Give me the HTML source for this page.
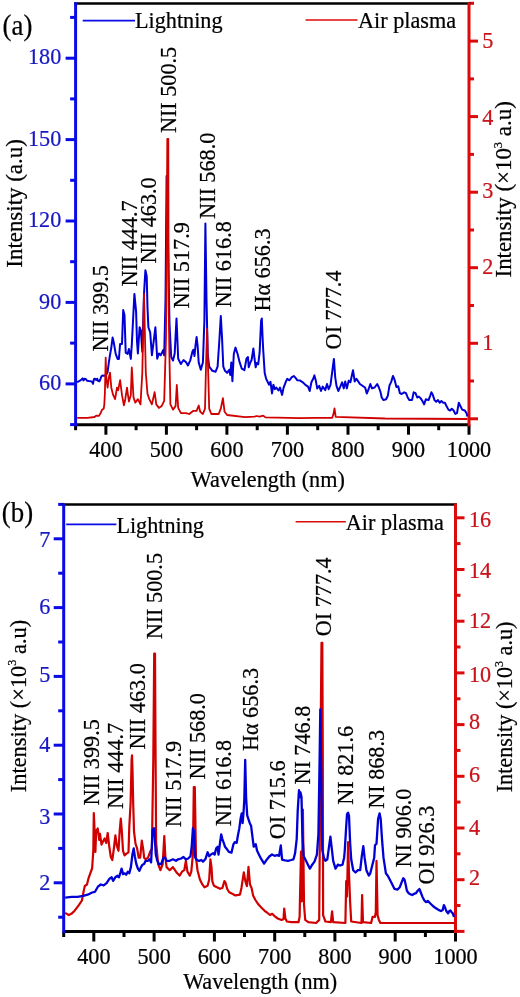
<!DOCTYPE html>
<html><head><meta charset="utf-8"><style>
html,body{margin:0;padding:0;background:#fff;}
svg{display:block;}
text{font-family:'Liberation Serif',serif;font-size:24px;stroke-width:0.25px;}
</style></head><body>
<svg width="520" height="997" viewBox="0 0 520 997">
<rect width="520" height="997" fill="#fff"/>
<g>
<line x1="105.9" y1="424.7" x2="105.9" y2="434.7" stroke="#000" stroke-width="3"/>
<text transform="translate(105.86,456.70) scale(0.925,1)" text-anchor="middle" fill="#000" stroke="#000">400</text>
<line x1="166.4" y1="424.7" x2="166.4" y2="434.7" stroke="#000" stroke-width="3"/>
<text transform="translate(166.38,456.70) scale(0.925,1)" text-anchor="middle" fill="#000" stroke="#000">500</text>
<line x1="226.9" y1="424.7" x2="226.9" y2="434.7" stroke="#000" stroke-width="3"/>
<text transform="translate(226.91,456.70) scale(0.925,1)" text-anchor="middle" fill="#000" stroke="#000">600</text>
<line x1="287.4" y1="424.7" x2="287.4" y2="434.7" stroke="#000" stroke-width="3"/>
<text transform="translate(287.43,456.70) scale(0.925,1)" text-anchor="middle" fill="#000" stroke="#000">700</text>
<line x1="348.0" y1="424.7" x2="348.0" y2="434.7" stroke="#000" stroke-width="3"/>
<text transform="translate(347.95,456.70) scale(0.925,1)" text-anchor="middle" fill="#000" stroke="#000">800</text>
<line x1="408.5" y1="424.7" x2="408.5" y2="434.7" stroke="#000" stroke-width="3"/>
<text transform="translate(408.48,456.70) scale(0.925,1)" text-anchor="middle" fill="#000" stroke="#000">900</text>
<line x1="469.0" y1="424.7" x2="469.0" y2="434.7" stroke="#000" stroke-width="3"/>
<text transform="translate(469.00,456.70) scale(0.925,1)" text-anchor="middle" fill="#000" stroke="#000">1000</text>
<line x1="75.6" y1="424.7" x2="75.6" y2="430.2" stroke="#000" stroke-width="3"/>
<line x1="136.1" y1="424.7" x2="136.1" y2="430.2" stroke="#000" stroke-width="3"/>
<line x1="196.6" y1="424.7" x2="196.6" y2="430.2" stroke="#000" stroke-width="3"/>
<line x1="257.2" y1="424.7" x2="257.2" y2="430.2" stroke="#000" stroke-width="3"/>
<line x1="317.7" y1="424.7" x2="317.7" y2="430.2" stroke="#000" stroke-width="3"/>
<line x1="378.2" y1="424.7" x2="378.2" y2="430.2" stroke="#000" stroke-width="3"/>
<line x1="438.7" y1="424.7" x2="438.7" y2="430.2" stroke="#000" stroke-width="3"/>
<line x1="65.6" y1="383.9" x2="75.6" y2="383.9" stroke="#0a0ae6" stroke-width="3"/>
<text transform="translate(61.30,389.80) scale(0.925,1)" text-anchor="end" fill="#1818c4" stroke="#1818c4">60</text>
<line x1="65.6" y1="302.4" x2="75.6" y2="302.4" stroke="#0a0ae6" stroke-width="3"/>
<text transform="translate(61.30,308.90) scale(0.925,1)" text-anchor="end" fill="#1818c4" stroke="#1818c4">90</text>
<line x1="65.6" y1="221.0" x2="75.6" y2="221.0" stroke="#0a0ae6" stroke-width="3"/>
<text transform="translate(61.30,227.20) scale(0.925,1)" text-anchor="end" fill="#1818c4" stroke="#1818c4">120</text>
<line x1="65.6" y1="139.6" x2="75.6" y2="139.6" stroke="#0a0ae6" stroke-width="3"/>
<text transform="translate(61.30,145.70) scale(0.925,1)" text-anchor="end" fill="#1818c4" stroke="#1818c4">150</text>
<line x1="65.6" y1="58.2" x2="75.6" y2="58.2" stroke="#0a0ae6" stroke-width="3"/>
<text transform="translate(61.30,63.90) scale(0.925,1)" text-anchor="end" fill="#1818c4" stroke="#1818c4">180</text>
<line x1="70.1" y1="424.6" x2="75.6" y2="424.6" stroke="#0a0ae6" stroke-width="3"/>
<line x1="70.1" y1="343.1" x2="75.6" y2="343.1" stroke="#0a0ae6" stroke-width="3"/>
<line x1="70.1" y1="261.7" x2="75.6" y2="261.7" stroke="#0a0ae6" stroke-width="3"/>
<line x1="70.1" y1="180.3" x2="75.6" y2="180.3" stroke="#0a0ae6" stroke-width="3"/>
<line x1="70.1" y1="98.9" x2="75.6" y2="98.9" stroke="#0a0ae6" stroke-width="3"/>
<line x1="70.1" y1="17.4" x2="75.6" y2="17.4" stroke="#0a0ae6" stroke-width="3"/>
<line x1="469.0" y1="418.8" x2="478.0" y2="418.8" stroke="#dc0a0a" stroke-width="3"/>
<line x1="469.0" y1="343.3" x2="478.0" y2="343.3" stroke="#dc0a0a" stroke-width="3"/>
<text transform="translate(482.20,350.40) scale(0.925,1)" fill="#c8141c" stroke="#c8141c">1</text>
<line x1="469.0" y1="267.7" x2="478.0" y2="267.7" stroke="#dc0a0a" stroke-width="3"/>
<text transform="translate(482.20,273.70) scale(0.925,1)" fill="#c8141c" stroke="#c8141c">2</text>
<line x1="469.0" y1="192.2" x2="478.0" y2="192.2" stroke="#dc0a0a" stroke-width="3"/>
<text transform="translate(482.20,198.20) scale(0.925,1)" fill="#c8141c" stroke="#c8141c">3</text>
<line x1="469.0" y1="116.6" x2="478.0" y2="116.6" stroke="#dc0a0a" stroke-width="3"/>
<text transform="translate(482.20,125.20) scale(0.925,1)" fill="#c8141c" stroke="#c8141c">4</text>
<line x1="469.0" y1="41.1" x2="478.0" y2="41.1" stroke="#dc0a0a" stroke-width="3"/>
<text transform="translate(482.20,47.50) scale(0.925,1)" fill="#c8141c" stroke="#c8141c">5</text>
<line x1="469.0" y1="381.0" x2="474.0" y2="381.0" stroke="#dc0a0a" stroke-width="3"/>
<line x1="469.0" y1="305.5" x2="474.0" y2="305.5" stroke="#dc0a0a" stroke-width="3"/>
<line x1="469.0" y1="230.0" x2="474.0" y2="230.0" stroke="#dc0a0a" stroke-width="3"/>
<line x1="469.0" y1="154.4" x2="474.0" y2="154.4" stroke="#dc0a0a" stroke-width="3"/>
<line x1="469.0" y1="78.9" x2="474.0" y2="78.9" stroke="#dc0a0a" stroke-width="3"/>
<line x1="469.0" y1="3.3" x2="474.0" y2="3.3" stroke="#dc0a0a" stroke-width="3"/>
<line x1="74.1" y1="3.5" x2="470.5" y2="3.5" stroke="#000" stroke-width="2.5"/>
<line x1="75.6" y1="424.7" x2="469.0" y2="424.7" stroke="#000" stroke-width="3"/>
<line x1="75.6" y1="2.3" x2="75.6" y2="426.2" stroke="#0a0ae6" stroke-width="3"/>
<line x1="469.0" y1="2.3" x2="469.0" y2="426.2" stroke="#dc0a0a" stroke-width="3"/>
</g>
<line x1="93.8" y1="931.5" x2="93.8" y2="941.5" stroke="#000" stroke-width="3"/>
<text transform="translate(93.84,964.00) scale(0.925,1)" text-anchor="middle" fill="#000" stroke="#000">400</text>
<line x1="154.1" y1="931.5" x2="154.1" y2="941.5" stroke="#000" stroke-width="3"/>
<text transform="translate(154.12,964.00) scale(0.925,1)" text-anchor="middle" fill="#000" stroke="#000">500</text>
<line x1="214.4" y1="931.5" x2="214.4" y2="941.5" stroke="#000" stroke-width="3"/>
<text transform="translate(214.39,964.00) scale(0.925,1)" text-anchor="middle" fill="#000" stroke="#000">600</text>
<line x1="274.7" y1="931.5" x2="274.7" y2="941.5" stroke="#000" stroke-width="3"/>
<text transform="translate(274.67,964.00) scale(0.925,1)" text-anchor="middle" fill="#000" stroke="#000">700</text>
<line x1="334.9" y1="931.5" x2="334.9" y2="941.5" stroke="#000" stroke-width="3"/>
<text transform="translate(334.95,964.00) scale(0.925,1)" text-anchor="middle" fill="#000" stroke="#000">800</text>
<line x1="395.2" y1="931.5" x2="395.2" y2="941.5" stroke="#000" stroke-width="3"/>
<text transform="translate(395.22,964.00) scale(0.925,1)" text-anchor="middle" fill="#000" stroke="#000">900</text>
<line x1="455.5" y1="931.5" x2="455.5" y2="941.5" stroke="#000" stroke-width="3"/>
<text transform="translate(455.50,964.00) scale(0.925,1)" text-anchor="middle" fill="#000" stroke="#000">1000</text>
<line x1="63.7" y1="931.5" x2="63.7" y2="937.0" stroke="#000" stroke-width="3"/>
<line x1="124.0" y1="931.5" x2="124.0" y2="937.0" stroke="#000" stroke-width="3"/>
<line x1="184.3" y1="931.5" x2="184.3" y2="937.0" stroke="#000" stroke-width="3"/>
<line x1="244.5" y1="931.5" x2="244.5" y2="937.0" stroke="#000" stroke-width="3"/>
<line x1="304.8" y1="931.5" x2="304.8" y2="937.0" stroke="#000" stroke-width="3"/>
<line x1="365.1" y1="931.5" x2="365.1" y2="937.0" stroke="#000" stroke-width="3"/>
<line x1="425.4" y1="931.5" x2="425.4" y2="937.0" stroke="#000" stroke-width="3"/>
<line x1="53.7" y1="882.8" x2="63.7" y2="882.8" stroke="#0a0ae6" stroke-width="3"/>
<text transform="translate(50.40,889.50) scale(0.925,1)" text-anchor="end" fill="#1818c4" stroke="#1818c4">2</text>
<line x1="53.7" y1="814.0" x2="63.7" y2="814.0" stroke="#0a0ae6" stroke-width="3"/>
<text transform="translate(50.40,823.70) scale(0.925,1)" text-anchor="end" fill="#1818c4" stroke="#1818c4">3</text>
<line x1="53.7" y1="745.2" x2="63.7" y2="745.2" stroke="#0a0ae6" stroke-width="3"/>
<text transform="translate(50.40,751.80) scale(0.925,1)" text-anchor="end" fill="#1818c4" stroke="#1818c4">4</text>
<line x1="53.7" y1="676.4" x2="63.7" y2="676.4" stroke="#0a0ae6" stroke-width="3"/>
<text transform="translate(50.40,681.60) scale(0.925,1)" text-anchor="end" fill="#1818c4" stroke="#1818c4">5</text>
<line x1="53.7" y1="607.6" x2="63.7" y2="607.6" stroke="#0a0ae6" stroke-width="3"/>
<text transform="translate(50.40,614.10) scale(0.925,1)" text-anchor="end" fill="#1818c4" stroke="#1818c4">6</text>
<line x1="53.7" y1="538.8" x2="63.7" y2="538.8" stroke="#0a0ae6" stroke-width="3"/>
<text transform="translate(50.40,546.80) scale(0.925,1)" text-anchor="end" fill="#1818c4" stroke="#1818c4">7</text>
<line x1="58.2" y1="917.2" x2="63.7" y2="917.2" stroke="#0a0ae6" stroke-width="3"/>
<line x1="58.2" y1="848.4" x2="63.7" y2="848.4" stroke="#0a0ae6" stroke-width="3"/>
<line x1="58.2" y1="779.6" x2="63.7" y2="779.6" stroke="#0a0ae6" stroke-width="3"/>
<line x1="58.2" y1="710.8" x2="63.7" y2="710.8" stroke="#0a0ae6" stroke-width="3"/>
<line x1="58.2" y1="642.0" x2="63.7" y2="642.0" stroke="#0a0ae6" stroke-width="3"/>
<line x1="58.2" y1="573.2" x2="63.7" y2="573.2" stroke="#0a0ae6" stroke-width="3"/>
<line x1="58.2" y1="504.4" x2="63.7" y2="504.4" stroke="#0a0ae6" stroke-width="3"/>
<line x1="455.5" y1="931.4" x2="464.5" y2="931.4" stroke="#dc0a0a" stroke-width="3"/>
<line x1="455.5" y1="879.7" x2="464.5" y2="879.7" stroke="#dc0a0a" stroke-width="3"/>
<text transform="translate(469.00,885.00) scale(0.925,1)" fill="#c8141c" stroke="#c8141c">2</text>
<line x1="455.5" y1="828.0" x2="464.5" y2="828.0" stroke="#dc0a0a" stroke-width="3"/>
<text transform="translate(469.00,834.90) scale(0.925,1)" fill="#c8141c" stroke="#c8141c">4</text>
<line x1="455.5" y1="776.3" x2="464.5" y2="776.3" stroke="#dc0a0a" stroke-width="3"/>
<text transform="translate(469.00,781.80) scale(0.925,1)" fill="#c8141c" stroke="#c8141c">6</text>
<line x1="455.5" y1="724.6" x2="464.5" y2="724.6" stroke="#dc0a0a" stroke-width="3"/>
<text transform="translate(469.00,729.10) scale(0.925,1)" fill="#c8141c" stroke="#c8141c">8</text>
<line x1="455.5" y1="672.9" x2="464.5" y2="672.9" stroke="#dc0a0a" stroke-width="3"/>
<text transform="translate(469.00,681.50) scale(0.925,1)" fill="#c8141c" stroke="#c8141c">10</text>
<line x1="455.5" y1="621.2" x2="464.5" y2="621.2" stroke="#dc0a0a" stroke-width="3"/>
<text transform="translate(469.00,628.20) scale(0.925,1)" fill="#c8141c" stroke="#c8141c">12</text>
<line x1="455.5" y1="569.5" x2="464.5" y2="569.5" stroke="#dc0a0a" stroke-width="3"/>
<text transform="translate(469.00,578.20) scale(0.925,1)" fill="#c8141c" stroke="#c8141c">14</text>
<line x1="455.5" y1="517.8" x2="464.5" y2="517.8" stroke="#dc0a0a" stroke-width="3"/>
<text transform="translate(469.00,527.20) scale(0.925,1)" fill="#c8141c" stroke="#c8141c">16</text>
<line x1="455.5" y1="905.5" x2="460.5" y2="905.5" stroke="#dc0a0a" stroke-width="3"/>
<line x1="455.5" y1="853.8" x2="460.5" y2="853.8" stroke="#dc0a0a" stroke-width="3"/>
<line x1="455.5" y1="802.1" x2="460.5" y2="802.1" stroke="#dc0a0a" stroke-width="3"/>
<line x1="455.5" y1="750.4" x2="460.5" y2="750.4" stroke="#dc0a0a" stroke-width="3"/>
<line x1="455.5" y1="698.8" x2="460.5" y2="698.8" stroke="#dc0a0a" stroke-width="3"/>
<line x1="455.5" y1="647.0" x2="460.5" y2="647.0" stroke="#dc0a0a" stroke-width="3"/>
<line x1="455.5" y1="595.3" x2="460.5" y2="595.3" stroke="#dc0a0a" stroke-width="3"/>
<line x1="455.5" y1="543.6" x2="460.5" y2="543.6" stroke="#dc0a0a" stroke-width="3"/>
<line x1="62.2" y1="504.6" x2="457.0" y2="504.6" stroke="#000" stroke-width="2.5"/>
<line x1="63.7" y1="931.5" x2="455.5" y2="931.5" stroke="#000" stroke-width="3"/>
<line x1="63.7" y1="503.4" x2="63.7" y2="933.0" stroke="#0a0ae6" stroke-width="3"/>
<line x1="455.5" y1="503.4" x2="455.5" y2="933.0" stroke="#dc0a0a" stroke-width="3"/>
<path d="M77.2,382.4 L78.6,381.3 L80.0,380.7 L81.5,379.5 L82.6,378.4 L83.5,380.4 L84.7,378.7 L85.8,379.2 L87.0,380.7 L88.7,381.0 L91.0,381.3 L92.2,381.8 L93.0,383.8 L93.9,379.2 L95.0,378.7 L96.2,380.1 L97.1,378.7 L98.2,381.0 L99.4,381.3 L100.2,379.8 L101.4,376.3 L102.5,375.5 L104.3,375.8 L106.0,374.9 L107.6,372.0 L108.8,362.7 L110.0,355.0 L111.3,347.6 L112.6,337.6 L113.8,342.6 L115.7,353.9 L117.6,358.9 L118.9,358.9 L120.1,343.9 L122.0,343.9 L123.2,310.0 L124.5,315.0 L125.7,352.6 L127.6,353.9 L128.9,348.9 L130.8,358.9 L131.8,344.7 L134.4,293.9 L136.1,311.4 L137.0,341.2 L137.9,353.5 L139.6,327.2 L140.9,330.7 L142.3,351.8 L144.0,293.9 L145.4,270.2 L146.7,276.3 L147.5,307.9 L148.4,327.2 L150.2,332.5 L151.9,355.3 L153.7,341.2 L155.4,327.2 L157.2,358.8 L158.9,353.5 L160.7,355.3 L163.3,350.0 L164.2,355.3 L165.5,300.0 L166.6,176.0 L167.8,230.0 L169.5,323.7 L171.2,357.0 L173.0,360.5 L174.7,353.5 L176.5,318.4 L178.2,358.8 L180.9,364.0 L183.5,360.0 L186.1,362.3 L187.9,365.5 L190.3,360.3 L192.4,351.8 L193.4,349.7 L194.5,356.0 L195.5,345.5 L196.6,337.1 L197.6,345.5 L198.7,362.4 L200.8,369.7 L202.9,362.4 L204.4,320.3 L205.4,223.4 L206.5,299.2 L207.7,354.0 L209.2,366.6 L212.4,370.8 L215.5,371.8 L217.6,366.6 L219.3,341.3 L220.8,316.1 L222.0,337.1 L223.3,366.6 L225.0,370.8 L227.1,372.9 L229.2,369.7 L230.3,375.0 L231.3,362.4 L232.4,381.3 L233.8,354.0 L235.5,347.6 L237.6,354.0 L239.7,362.4 L241.8,368.7 L244.4,370.2 L246.5,358.5 L248.0,357.1 L248.7,367.3 L250.2,362.9 L251.6,360.0 L253.4,348.4 L254.5,358.5 L255.7,367.3 L256.7,362.9 L258.2,364.4 L259.6,352.7 L261.1,320.7 L261.8,318.5 L262.5,335.3 L263.2,349.8 L264.7,373.1 L266.2,378.9 L267.6,381.8 L269.1,384.7 L270.5,381.8 L272.0,393.4 L273.4,384.7 L274.9,389.1 L276.3,387.6 L278.5,390.5 L280.0,387.6 L282.1,394.9 L283.6,387.6 L285.8,381.8 L287.2,378.9 L289.4,380.3 L291.6,377.4 L293.8,376.0 L295.2,377.4 L297.4,380.3 L300.2,380.6 L302.8,382.3 L305.4,384.9 L308.0,386.6 L309.7,391.0 L311.4,382.3 L313.2,378.8 L314.4,375.4 L315.8,380.6 L317.2,388.4 L319.2,385.8 L321.0,391.0 L322.7,386.6 L325.3,390.1 L327.0,384.0 L328.7,389.2 L330.5,384.9 L332.2,371.9 L333.9,358.9 L335.2,377.1 L336.5,385.8 L338.3,391.0 L340.3,386.6 L342.1,382.3 L343.8,388.4 L345.2,381.4 L346.9,388.4 L348.7,380.6 L350.4,382.3 L353.0,370.2 L354.7,381.4 L356.4,378.8 L358.2,381.4 L359.9,384.0 L362.5,385.8 L365.1,387.5 L366.8,393.6 L368.6,389.2 L370.3,384.0 L372.0,388.4 L374.6,387.5 L377.2,384.0 L378.9,387.5 L380.5,392.0 L381.7,397.5 L383.5,400.1 L386.1,399.2 L387.8,395.8 L389.5,385.4 L391.2,381.9 L393.0,375.9 L394.7,380.2 L396.4,387.1 L398.2,386.2 L399.9,393.2 L401.6,394.0 L404.2,392.3 L406.0,393.2 L407.7,397.5 L409.4,400.1 L412.0,400.1 L413.7,392.3 L415.5,393.2 L417.2,397.5 L418.9,396.6 L420.7,398.4 L422.4,401.0 L424.1,404.4 L425.9,399.2 L428.5,400.1 L430.2,395.8 L431.4,392.3 L432.8,394.9 L434.5,400.1 L436.2,401.8 L438.0,400.1 L439.7,402.7 L441.4,401.0 L443.2,402.7 L444.9,402.7 L446.6,406.2 L448.4,409.6 L450.1,410.5 L451.8,408.8 L453.6,410.5 L455.3,413.9 L457.0,413.1 L458.8,402.7 L460.5,406.2 L462.2,409.6 L464.8,410.5 L466.5,413.1 L467.4,416.5" fill="none" stroke="#0000d6" stroke-width="2.0" stroke-linejoin="round"/>
<path d="M77.2,417.9 L87.5,417.9 L94.5,417.0 L96.2,415.6 L99.0,415.9 L100.8,412.7 L102.0,409.8 L103.7,408.7 L104.3,404.6 L104.9,393.0 L105.7,357.6 L106.3,377.7 L107.6,387.7 L108.8,377.7 L110.0,372.7 L111.3,387.7 L113.2,395.2 L115.1,399.0 L117.0,387.7 L118.2,390.2 L120.1,380.2 L122.0,395.2 L123.9,405.3 L125.1,400.3 L127.0,387.7 L128.9,401.5 L130.8,395.2 L131.8,367.5 L133.5,397.4 L135.3,402.6 L137.9,399.1 L140.5,404.4 L142.3,372.8 L144.0,293.9 L145.8,372.8 L147.5,393.9 L149.3,399.1 L151.9,404.4 L154.6,392.1 L156.3,404.4 L158.9,407.9 L161.6,406.1 L164.2,400.9 L166.0,337.7 L167.3,139.0 L168.3,139.0 L168.6,300.0 L169.4,355.3 L170.4,404.4 L173.0,409.6 L175.6,406.1 L176.8,385.0 L178.2,407.9 L180.9,413.2 L186.1,413.2 L189.2,414.0 L193.4,410.8 L196.6,410.8 L198.7,405.5 L200.2,411.8 L202.9,414.0 L205.0,408.7 L206.1,362.4 L207.1,328.7 L208.2,372.9 L209.2,408.7 L211.3,414.0 L218.7,414.0 L220.8,408.7 L222.9,398.2 L224.6,411.8 L227.1,415.0 L245.0,417.1 L254.5,416.7 L256.7,416.0 L259.6,416.7 L263.2,415.6 L265.4,417.4 L300.0,418.2 L315.8,417.8 L332.2,417.8 L333.4,414.3 L334.5,408.3 L335.7,416.9 L385.0,418.5 L467.5,419.0" fill="none" stroke="#d00000" stroke-width="1.8" stroke-linejoin="round"/>
<path d="M65.2,912.9 L68.8,915.1 L71.7,913.6 L74.6,910.7 L76.8,907.8 L79.0,904.9 L81.9,900.5 L84.1,888.9 L84.8,886.0 L87.0,884.5 L88.4,878.7 L89.9,874.4 L92.1,868.5 L93.3,851.1 L93.8,813.0 L94.6,830.8 L95.1,846.0 L95.4,852.0 L96.2,830.8 L97.7,828.5 L98.5,833.8 L99.2,840.0 L100.0,833.8 L101.5,844.6 L103.0,841.5 L104.6,838.5 L106.2,843.0 L107.7,833.0 L109.2,846.0 L110.8,857.0 L112.3,860.0 L113.8,849.0 L115.4,835.4 L116.9,846.0 L118.5,850.8 L119.7,830.8 L120.8,818.5 L121.8,830.8 L123.0,850.8 L124.6,855.4 L126.2,853.8 L128.5,852.3 L129.3,826.6 L130.6,803.3 L131.6,760.0 L132.0,755.4 L132.5,770.0 L133.2,803.3 L134.0,831.3 L135.5,843.7 L137.1,848.4 L138.7,857.7 L140.2,857.7 L141.8,840.6 L143.3,850.0 L144.1,857.7 L145.6,859.3 L148.0,857.7 L150.3,851.5 L151.9,848.4 L153.3,760.0 L154.2,653.6 L155.0,653.6 L155.6,760.0 L156.1,842.2 L158.1,864.0 L160.4,870.2 L162.7,864.0 L164.3,836.0 L165.4,857.7 L166.6,867.1 L169.7,870.2 L172.9,867.1 L176.0,871.7 L177.3,873.3 L179.7,875.6 L182.0,871.7 L184.3,870.2 L185.9,860.8 L187.4,871.7 L189.8,875.6 L191.3,871.7 L192.9,854.6 L193.8,787.0 L194.8,787.0 L196.0,857.7 L197.5,870.2 L199.9,879.5 L202.2,884.2 L204.5,887.3 L207.6,885.7 L209.2,879.5 L210.4,859.3 L211.5,867.1 L212.3,881.1 L213.9,885.7 L217.0,887.3 L220.1,888.8 L222.4,888.0 L224.4,881.1 L225.5,882.6 L227.1,888.8 L229.2,892.3 L232.3,893.8 L235.4,895.4 L240.0,894.6 L241.5,887.7 L243.8,872.3 L245.4,881.5 L246.9,886.2 L248.5,866.9 L250.0,884.6 L251.5,887.7 L253.1,895.4 L255.4,900.0 L258.5,904.6 L261.5,907.7 L264.6,910.8 L267.0,912.5 L270.0,915.0 L272.3,913.8 L274.6,916.2 L277.7,918.5 L281.5,920.0 L283.5,919.2 L284.2,908.5 L285.4,918.5 L286.9,921.5 L291.5,922.2 L298.5,922.2 L299.6,916.9 L300.1,891.9 L301.0,851.5 L301.8,901.3 L302.9,809.5 L304.0,904.4 L305.2,919.9 L308.3,922.2 L316.1,923.0 L319.2,919.9 L320.4,760.0 L321.5,642.8 L322.3,642.8 L322.8,760.0 L323.1,915.2 L325.4,921.5 L330.9,922.2 L332.1,911.4 L333.2,922.2 L345.4,923.0 L346.2,881.1 L347.0,896.6 L348.1,842.2 L349.0,873.3 L350.1,901.3 L351.2,921.5 L361.5,923.0 L362.1,895.0 L363.0,922.2 L371.1,923.0 L372.6,916.8 L375.0,916.8 L375.8,912.1 L376.5,860.8 L377.6,915.2 L378.9,919.9 L380.4,923.0 L455.0,923.0" fill="none" stroke="#d00000" stroke-width="2.2" stroke-linejoin="round"/>
<path d="M65.2,897.6 L71.7,896.9 L77.5,896.9 L83.3,895.9 L87.7,894.7 L92.1,892.5 L95.0,891.8 L97.9,886.7 L100.8,884.5 L103.7,885.3 L106.6,883.1 L109.5,878.7 L111.7,877.3 L113.1,880.9 L115.3,877.3 L117.5,875.8 L118.9,877.3 L120.4,872.9 L121.6,868.6 L123.1,874.1 L124.7,873.3 L126.2,874.8 L127.8,871.7 L129.3,873.3 L130.9,867.1 L132.4,854.6 L133.7,848.4 L134.8,856.2 L136.3,864.0 L137.9,868.6 L139.4,870.9 L141.0,867.1 L142.5,864.7 L144.1,864.0 L145.6,860.8 L148.0,860.8 L149.5,859.3 L151.1,862.4 L152.6,829.7 L154.2,828.2 L155.8,854.6 L157.3,860.8 L158.9,864.0 L161.2,864.0 L163.5,857.7 L165.1,857.7 L166.6,860.8 L169.7,860.8 L172.9,859.3 L176.0,860.8 L178.1,859.3 L181.2,858.5 L183.5,857.0 L185.9,859.3 L188.2,858.5 L190.5,856.2 L191.8,845.3 L192.9,828.2 L194.0,831.3 L195.2,857.7 L196.8,860.0 L199.1,860.8 L201.4,860.0 L203.0,861.6 L205.3,859.3 L207.6,852.3 L209.2,856.2 L210.8,854.6 L213.1,853.1 L214.6,854.6 L216.2,848.4 L217.7,846.8 L218.5,854.6 L220.1,842.2 L221.2,834.4 L222.4,839.1 L224.0,843.7 L225.0,846.7 L227.0,849.3 L228.9,851.9 L231.5,852.6 L233.5,844.1 L234.8,842.1 L236.7,842.8 L238.0,835.0 L239.3,828.4 L240.7,818.0 L241.7,813.4 L242.6,823.2 L243.5,812.8 L244.3,799.8 L245.2,760.0 L246.1,797.2 L247.2,815.4 L248.5,819.3 L249.8,823.2 L251.1,825.8 L252.4,836.3 L253.7,846.7 L255.7,844.1 L257.0,850.6 L258.9,854.5 L260.9,858.4 L264.1,863.6 L266.7,859.7 L269.3,856.5 L272.0,854.5 L274.6,855.8 L277.2,855.2 L279.1,855.8 L280.8,845.4 L282.1,859.7 L285.0,860.4 L288.1,860.8 L291.2,860.0 L293.5,859.3 L295.1,853.1 L296.7,839.1 L297.7,811.1 L299.0,790.1 L299.9,797.1 L300.5,792.4 L301.5,797.1 L302.4,834.4 L303.7,856.2 L306.0,860.8 L308.3,865.5 L309.9,868.6 L312.2,864.7 L314.5,861.6 L316.9,854.6 L318.4,834.4 L319.6,760.0 L320.3,709.4 L321.0,760.0 L322.3,850.0 L323.9,857.7 L325.4,860.8 L327.3,859.3 L328.8,848.4 L330.4,836.7 L331.6,846.8 L333.2,860.8 L335.5,868.6 L337.9,864.7 L340.2,865.5 L342.5,864.7 L344.1,857.7 L344.7,851.5 L345.9,831.3 L347.0,814.2 L348.1,812.6 L349.0,815.8 L350.1,842.2 L351.2,859.3 L353.2,870.2 L355.5,872.5 L357.9,870.2 L360.2,870.2 L361.8,856.2 L363.3,846.1 L364.6,857.7 L366.4,870.2 L368.8,875.6 L370.3,873.3 L372.6,864.0 L374.2,857.7 L375.0,845.3 L376.5,843.7 L378.1,818.9 L379.6,813.4 L380.7,818.9 L382.0,839.1 L383.5,857.7 L385.9,873.3 L388.2,876.4 L391.3,882.6 L394.4,888.8 L397.4,889.6 L399.8,887.2 L401.6,882.4 L403.3,878.3 L404.5,879.5 L405.7,884.8 L406.9,890.8 L408.7,893.2 L410.5,894.4 L412.3,895.0 L414.1,893.8 L415.9,893.2 L417.7,890.8 L419.4,889.0 L420.6,892.0 L422.4,896.7 L424.2,900.3 L426.0,902.1 L427.8,900.9 L429.6,902.7 L431.4,904.5 L433.2,906.3 L434.9,907.5 L436.7,908.7 L438.5,909.9 L440.9,911.0 L442.7,909.9 L443.9,905.1 L445.1,907.5 L446.3,911.0 L448.1,913.4 L449.3,911.0 L450.4,910.5 L451.6,912.2 L452.8,913.4 L454.0,917.0" fill="none" stroke="#0000d6" stroke-width="2.3" stroke-linejoin="round"/>
<line x1="82.7" y1="20.6" x2="135" y2="20.6" stroke="#0a0ae6" stroke-width="1.6"/>
<text transform="translate(135.00,27.80) scale(0.925,1)" fill="#000" stroke="#000">Lightning</text>
<line x1="305.6" y1="20" x2="357.5" y2="20" stroke="#dc0a0a" stroke-width="1.6"/>
<text transform="translate(358.00,27.80) scale(0.925,1)" fill="#000" stroke="#000">Air plasma</text>
<line x1="66.2" y1="524.4" x2="116.4" y2="524.4" stroke="#0a0ae6" stroke-width="1.6"/>
<text transform="translate(116.40,532.50) scale(0.925,1)" fill="#000" stroke="#000">Lightning</text>
<line x1="295.6" y1="521.7" x2="345.8" y2="521.7" stroke="#dc0a0a" stroke-width="1.6"/>
<text transform="translate(345.80,529.80) scale(0.925,1)" fill="#000" stroke="#000">Air plasma</text>
<text transform="translate(2.60,34.80) scale(0.925,1)" fill="#000" stroke="#000" style="font-size:29px">(a)</text>
<text transform="translate(1.80,521.60) scale(0.925,1)" fill="#000" stroke="#000" style="font-size:29px">(b)</text>
<text transform="translate(267.80,487.40) scale(0.925,1)" text-anchor="middle" fill="#000" stroke="#000">Wavelength (nm)</text>
<text transform="translate(260.20,989.40) scale(0.925,1)" text-anchor="middle" fill="#000" stroke="#000">Wavelength (nm)</text>
<text transform="translate(22.40,267.70) rotate(-90) scale(0.955,1)" fill="#000" stroke="#000">Intensity (a.u)</text>
<text transform="translate(511.30,277.50) rotate(-90) scale(0.955,1)" fill="#000" stroke="#000">Intensity (×10<tspan dy="-9.5" style="font-size:13px">3</tspan><tspan dy="9.5"> a.u)</tspan></text>
<text transform="translate(25.80,792.30) rotate(-90) scale(0.935,1)" fill="#000" stroke="#000">Intensity (×10<tspan dy="-9.5" style="font-size:13px">3</tspan><tspan dy="9.5"> a.u)</tspan></text>
<text transform="translate(512.30,792.30) rotate(-90) scale(0.925,1)" fill="#000" stroke="#000">Intensity (×10<tspan dy="-9.5" style="font-size:13px">3</tspan><tspan dy="9.5"> a.u)</tspan></text>
<text transform="translate(107.90,351.40) rotate(-90) scale(0.925,1)" fill="#000" stroke="#000">NII 399.5</text>
<text transform="translate(136.90,286.60) rotate(-90) scale(0.925,1)" fill="#000" stroke="#000">NII 444.7</text>
<text transform="translate(155.70,263.60) rotate(-90) scale(0.925,1)" fill="#000" stroke="#000">NII 463.0</text>
<text transform="translate(175.80,133.10) rotate(-90) scale(0.925,1)" fill="#000" stroke="#000">NII 500.5</text>
<text transform="translate(188.90,308.50) rotate(-90) scale(0.925,1)" fill="#000" stroke="#000">NII 517.9</text>
<text transform="translate(214.50,219.00) rotate(-90) scale(0.925,1)" fill="#000" stroke="#000">NII 568.0</text>
<text transform="translate(230.70,307.50) rotate(-90) scale(0.925,1)" fill="#000" stroke="#000">NII 616.8</text>
<text transform="translate(269.90,311.60) rotate(-90) scale(0.925,1)" fill="#000" stroke="#000">Hα 656.3</text>
<text transform="translate(340.70,349.40) rotate(-90) scale(0.925,1)" fill="#000" stroke="#000">OI 777.4</text>
<text transform="translate(99.10,805.50) rotate(-90) scale(0.925,1)" fill="#000" stroke="#000">NII 399.5</text>
<text transform="translate(122.60,809.10) rotate(-90) scale(0.925,1)" fill="#000" stroke="#000">NII 444.7</text>
<text transform="translate(144.50,749.50) rotate(-90) scale(0.925,1)" fill="#000" stroke="#000">NII 463.0</text>
<text transform="translate(162.00,639.30) rotate(-90) scale(0.925,1)" fill="#000" stroke="#000">NII 500.5</text>
<text transform="translate(180.70,827.20) rotate(-90) scale(0.925,1)" fill="#000" stroke="#000">NII 517.9</text>
<text transform="translate(204.70,779.40) rotate(-90) scale(0.925,1)" fill="#000" stroke="#000">NII 568.0</text>
<text transform="translate(230.50,826.30) rotate(-90) scale(0.925,1)" fill="#000" stroke="#000">NII 616.8</text>
<text transform="translate(258.40,751.10) rotate(-90) scale(0.925,1)" fill="#000" stroke="#000">Hα 656.3</text>
<text transform="translate(285.00,839.30) rotate(-90) scale(0.925,1)" fill="#000" stroke="#000">OI 715.6</text>
<text transform="translate(310.00,784.60) rotate(-90) scale(0.925,1)" fill="#000" stroke="#000">NI 746.8</text>
<text transform="translate(330.60,636.20) rotate(-90) scale(0.925,1)" fill="#000" stroke="#000">OI 777.4</text>
<text transform="translate(353.30,804.70) rotate(-90) scale(0.925,1)" fill="#000" stroke="#000">NI 821.6</text>
<text transform="translate(384.40,808.80) rotate(-90) scale(0.925,1)" fill="#000" stroke="#000">NI 868.3</text>
<text transform="translate(410.80,867.50) rotate(-90) scale(0.925,1)" fill="#000" stroke="#000">NI 906.0</text>
<text transform="translate(434.30,884.60) rotate(-90) scale(0.925,1)" fill="#000" stroke="#000">OI 926.3</text>
</svg>
</body></html>
